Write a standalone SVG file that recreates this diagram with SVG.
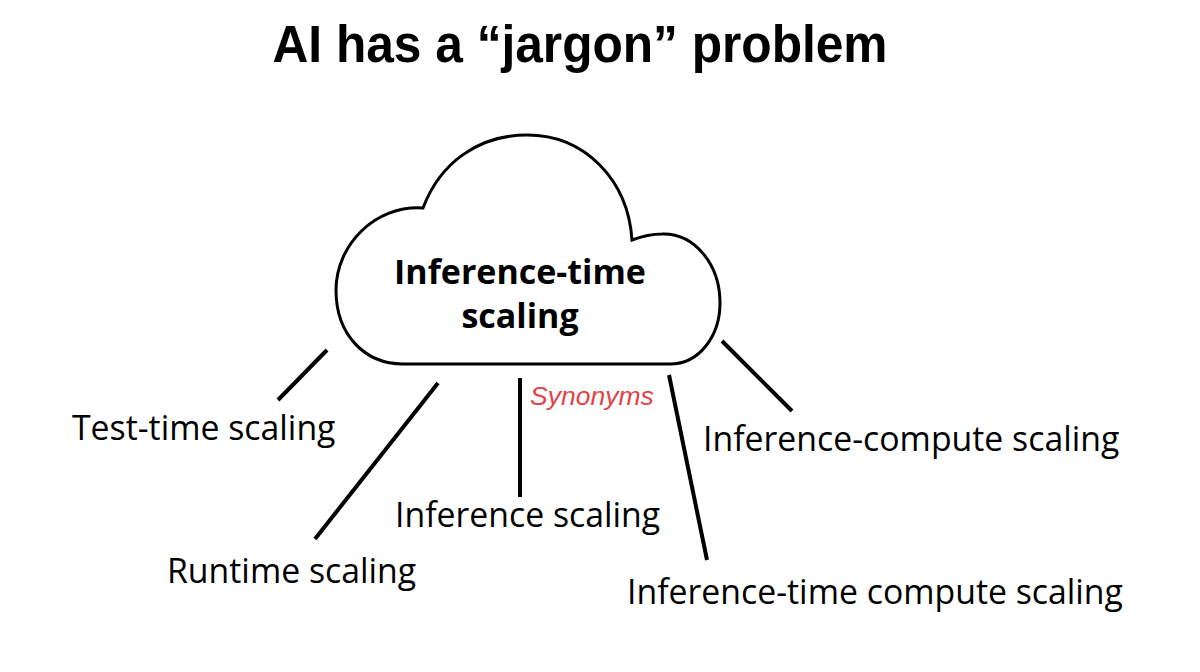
<svg xmlns="http://www.w3.org/2000/svg" width="1200" height="672" viewBox="0 0 1200 672">
<style>
.title{font-family:"Liberation Sans",Arial,sans-serif;font-weight:bold;font-size:51px;fill:#000}
.cloud{fill:#fff;stroke:#000;stroke-width:3}
.ctext{font-family:"Open Sans",sans-serif;font-weight:bold;font-size:34px;fill:#000;text-anchor:middle}
.label{font-family:"Open Sans",sans-serif;font-size:33.8px;fill:#000}
.syn{font-family:"Liberation Sans",Arial,sans-serif;font-style:italic;font-size:26.5px;fill:#df4448}
.conn line{stroke:#000;stroke-width:4;stroke-linecap:butt}
</style>
<rect width="1200" height="672" fill="#fff"/>
<text class="title" x="580" y="62" text-anchor="middle" textLength="615" lengthAdjust="spacingAndGlyphs">AI has a “jargon” problem</text>
<g id="cloud">
<path class="cloud" d="M403,364 L670,364 C700,364 720,335 720,303 C720,265 695,233 662,234 C650,234 640,237 632,240 C628,180 585,135 527,135 C478,135 440,163 423,208 C375,205 336,245 336,290 C336,335 365,364 403,364 Z"/>
<text class="ctext" x="520" y="284">Inference-time</text>
<text class="ctext" x="520" y="328">scaling</text>
</g>
<g id="connectors" class="conn">
<line x1="327" y1="350" x2="278" y2="400"/>
<line x1="438" y1="383" x2="315" y2="539"/>
<line x1="520" y1="378" x2="520" y2="497"/>
<line x1="669" y1="375" x2="707" y2="560"/>
<line x1="722" y1="341" x2="792" y2="411"/>
</g>
<g id="synonyms"><text class="syn" x="530" y="405">Synonyms</text></g>
<g id="test-time"><text class="label" x="72" y="440">Test-time scaling</text></g>
<g id="runtime"><text class="label" x="167" y="583">Runtime scaling</text></g>
<g id="inference"><text class="label" x="395" y="527">Inference scaling</text></g>
<g id="inference-compute"><text class="label" x="703" y="451">Inference-compute scaling</text></g>
<g id="inference-time-compute"><text class="label" x="627" y="604">Inference-time compute scaling</text></g>
</svg>
